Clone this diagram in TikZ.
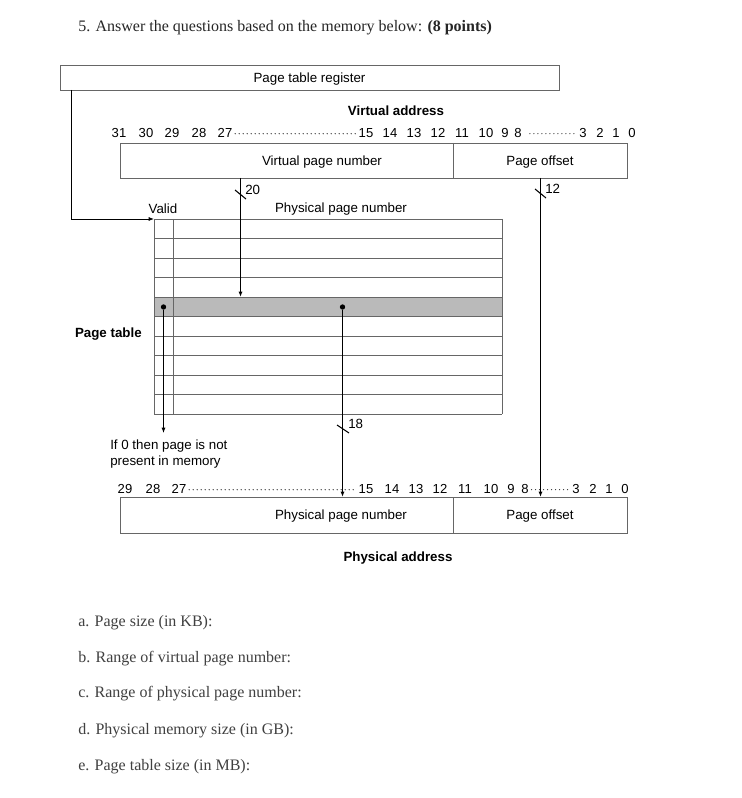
\documentclass[tikz,border=0pt]{standalone}
\usepackage{fontspec}
\setmainfont{Liberation Serif}
\setsansfont{Liberation Sans}
\usetikzlibrary{arrows.meta,positioning}

\begin{document}
\begin{tikzpicture}[x=0.75pt, y=-0.75pt,
  every node/.style={font=\sffamily\fontsize{10}{12}\selectfont, inner sep=0pt},
  heading/.style={font=\sffamily\bfseries\fontsize{10}{12}\selectfont},
  bitno/.style={font=\sffamily\fontsize{9.8}{11}\selectfont},
  question/.style={anchor=base west, font=\rmfamily\fontsize{12}{14}\selectfont, text=black!75},
  box/.style={draw=black!60, line width=0.6pt},
  bus/.style={line width=1.1pt, -{Latex[length=4pt, width=3pt]}},
  link/.style={line width=0.6pt, -{Latex[length=4pt, width=3pt]}},
  leader/.style={line width=0.95pt, line cap=round, dash pattern=on 0pt off 3pt, black!80},
  slashmark/.style={line width=0.8pt},
  dot/.style={circle, fill, minimum size=4pt}]
  \useasboundingbox[fill=white] (0,0) rectangle (741,798);

  % Heading
  \node[question, text=black!85] (title) at (78,32)
    {5. Answer the questions based on the memory below: \textbf{(8 points)}};

  % Page table register
  \draw[box] (60,65) rectangle (559,90);
  \node (ptreg) at (309.5,79) {Page table register};
  \coordinate (reg foot) at (71,90);

  % Virtual address
  \node[heading] (vaddr) at (396,111) {Virtual address};
  \foreach \x/\t in {119/31, 146/30, 172/29, 199/28, 225/27,
                     366/15, 390/14, 414/13, 438/12, 462/11, 486/10, 505/9, 518/8,
                     583/3, 600/2, 616/1, 632/0} {
    \node[bitno] (vb\t) at (\x,133) {\t};
  }
  \draw[leader] ([xshift=2pt,yshift=-0.5pt]vb27.east) -- ([xshift=-1pt,yshift=-0.5pt]vb15.west);
  \draw[leader] ([xshift=6pt,yshift=-0.5pt]vb8.east) -- ([xshift=-1pt,yshift=-0.5pt]vb3.west);
  \draw[box] (120,143) rectangle (627,178);
  \draw[box] (453,143) -- (453,178);
  \node (vpn) at (322,162) {Virtual page number};
  \node (voff) at (540,162) {Page offset};
  \coordinate (vpn out) at (240.5,178);
  \coordinate (voff out) at (540.5,178);

  % Page table
  \node (valid) at (163,209) {Valid};
  \node (ppnhead) at (341,209.5) {Physical page number};
  \node[heading, anchor=east] (ptable) at (142,334) {Page table};
  \fill[black!27] (154,297) rectangle (502,316.5);
  \foreach \i in {0,...,10} {
    \draw[box] (154,{219+19.5*\i}) -- (502,{219+19.5*\i});
  }
  \foreach \x in {154, 173, 502} {
    \draw[box] (\x,219) -- (\x,414);
  }
  \coordinate (pt nw) at (154,219);
  \coordinate (row top) at (240.5,297);
  \node[dot] (vbit) at (163.5,307) {};
  \node[dot] (pbit) at (342.5,307) {};

  % Register points at the table
  \draw[link] (reg foot) |- (pt nw);

  % Valid bit check
  \node[anchor=north west, align=left] (note) at (110,440)
    {If 0 then page is not\\present in memory};
  \coordinate (note tip) at (163.5,433);
  \draw[link] (vbit) -- (note tip);

  % Physical address
  \foreach \x/\t in {125/29, 153/28, 179/27,
                     366/15, 392/14, 416/13, 440/12, 465/11, 491/10, 511/9, 525/8,
                     576/3, 593/2, 609/1, 625/0} {
    \node[bitno] (pb\t) at (\x,489) {\t};
  }
  \draw[leader] ([xshift=2pt,yshift=-0.5pt]pb27.east) -- ([xshift=-1pt,yshift=-0.5pt]pb15.west);
  \draw[leader] ([xshift=2pt,yshift=-0.5pt]pb8.east) -- ([xshift=-1pt,yshift=-0.5pt]pb3.west);
  \draw[box] (120,497) rectangle (627,533);
  \draw[box] (453,497) -- (453,533);
  \node (ppn) at (341,516.5) {Physical page number};
  \node (poff) at (540,516.5) {Page offset};
  \node[heading] (paddr) at (398,558) {Physical address};
  \coordinate (ppn in) at (342.5,497);
  \coordinate (poff in) at (540.5,497);

  % Buses
  \draw[bus] (vpn out) -- (row top);
  \draw[bus] (voff out) -- (poff in);
  \draw[bus] (pbit) -- (ppn in);
  \node[anchor=west] (w20) at (245,189.5) {20};
  \node[anchor=west] (w12) at (545,188.5) {12};
  \node[anchor=west] (w18) at (348,423.5) {18};
  \draw[slashmark] (235,190) -- (246,199);
  \draw[slashmark] (535,189) -- (546,198);
  \draw[slashmark] (337,425) -- (349,433);

  % Questions
  \node[question] (qa) at (78,626) {a. Page size (in KB):};
  \node[question] (qb) at (78,662) {b. Range of virtual page number:};
  \node[question] (qc) at (78,697) {c. Range of physical page number:};
  \node[question] (qd) at (78,734) {d. Physical memory size (in GB):};
  \node[question] (qe) at (78,770) {e. Page table size (in MB):};
\end{tikzpicture}
\end{document}
